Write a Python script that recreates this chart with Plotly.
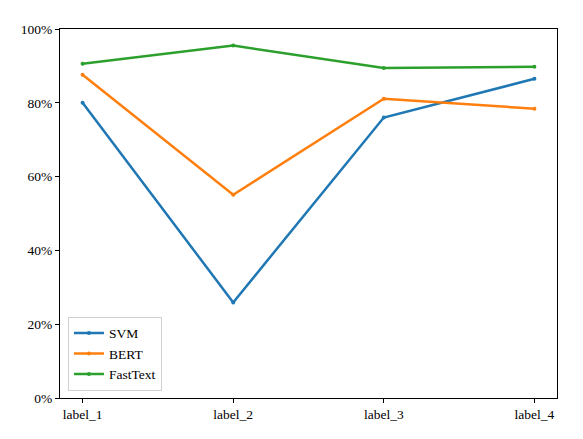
import plotly.graph_objects as go

labels = ["label_1", "label_2", "label_3", "label_4"]
svm = [80.0, 25.9, 76.0, 86.5]
bert = [87.6, 55.1, 81.1, 78.4]
fasttext = [90.6, 95.5, 89.4, 89.8]
y_ticks = [0, 20, 40, 60, 80, 100]

series = [("SVM", svm, "#1f77b4"), ("BERT", bert, "#ff7f0e"), ("FastText", fasttext, "#2ca02c")]

fig = go.Figure()
for name, vals, color in series:
    fig.add_trace(go.Scatter(
        x=list(range(len(labels))), y=vals, name=name,
        mode="lines+markers",
        line=dict(color=color, width=2.5),
        marker=dict(color=color, size=4),
    ))

font = dict(family="Liberation Serif, Times New Roman, serif", size=13.5, color="black")

fig.update_layout(
    width=583, height=439,
    margin=dict(l=60, r=26, t=29, b=41),
    paper_bgcolor="white", plot_bgcolor="white",
    font=font,
    showlegend=True,
    legend=dict(
        x=0.016, y=0.02, xanchor="left", yanchor="bottom",
        bgcolor="rgba(255,255,255,0.8)", bordercolor="#d0d0d0", borderwidth=1,
        font=font, tracegroupgap=0, itemwidth=30,
    ),
    xaxis=dict(
        range=[-0.15, 3.15], tickvals=list(range(len(labels))), ticktext=labels,
        showgrid=False, zeroline=False, showline=True, linecolor="black", linewidth=1,
        mirror=True, ticks="outside", ticklen=4, tickcolor="black",
    ),
    yaxis=dict(
        range=[0, 100], tickvals=y_ticks, ticktext=[f"{v}%" for v in y_ticks],
        showgrid=False, zeroline=False, showline=True, linecolor="black", linewidth=1,
        mirror=True, ticks="outside", ticklen=4, tickcolor="black",
    ),
)

# page body has a default 8px margin; drop it so the figure sits at 0,0
fig.write_html(
    "out.html",
    config={"displayModeBar": False},
    post_script="document.body.style.margin='0';document.body.style.overflow='hidden';",
)
